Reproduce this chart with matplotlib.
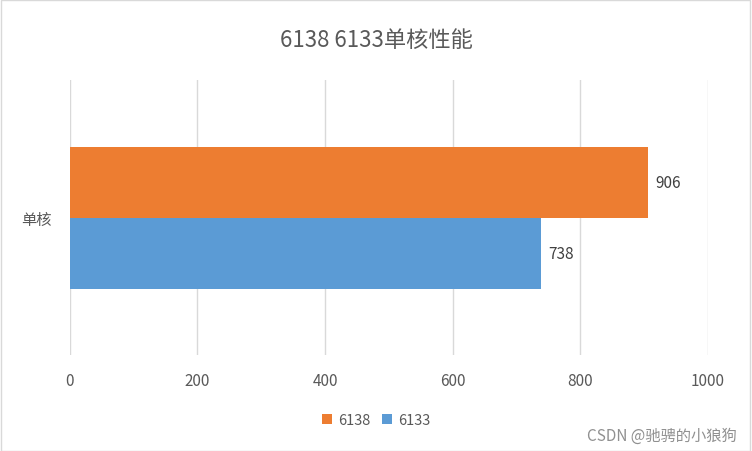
import matplotlib
matplotlib.use("Agg")
from matplotlib import pyplot as plt
from matplotlib.patches import Rectangle

plt.rcParams['font.family'] = ['Noto Sans CJK SC', 'DejaVu Sans']

category = "单核"
series_names = ["6138", "6133"]
series_values = [906, 738]
series_colors = ["#ED7D31", "#5B9BD5"]
xticks = [0, 200, 400, 600, 800, 1000]

fig = plt.figure(figsize=(7.52, 4.52), dpi=100)
ax = fig.add_axes([0.093, 0.212, 0.848, 0.608])

h = 0.258
offsets = [h / 2, -h / 2]
handles = []
for name, val, col, off in zip(series_names, series_values, series_colors, offsets):
    b = ax.barh(off, val, height=h, color=col, label=name, zorder=3)
    handles.append(b)
    ax.text(val + 12, off, str(val), va="center", ha="left", fontsize=11, color="#404040")

ax.set_xlim(0, 1000)
ax.set_ylim(-0.5, 0.5)
ax.set_xticks(xticks)
ax.set_xticklabels([str(t) for t in xticks])
ax.set_yticks([0])
ax.set_yticklabels([category])
ax.tick_params(length=0, labelsize=11, colors="#595959")
ax.tick_params(axis="x", pad=12)
ax.tick_params(axis="y", pad=13)
ax.grid(axis="x", color="#D9D9D9", linewidth=1, zorder=0)
for s in ax.spines.values():
    s.set_visible(False)

fig.suptitle("6138 6133单核性能", y=0.935, fontsize=16, color="#595959")
fig.legend(handles=handles, loc="center", bbox_to_anchor=(0.5, 0.068), ncol=2,
           frameon=False, fontsize=10.5, handlelength=0.7, handleheight=0.7,
           columnspacing=0.8, handletextpad=0.4, labelcolor="#595959")
fig.text(0.98, 0.035, "CSDN @驰骋的小狼狗", ha="right", va="center", fontsize=11, color="#909090")
fig.patches.append(Rectangle((0.001, 0.001), 0.997, 0.997, transform=fig.transFigure,
                             fill=False, edgecolor="#D9D9D9", linewidth=1))

fig.savefig("out.png", dpi=100)
